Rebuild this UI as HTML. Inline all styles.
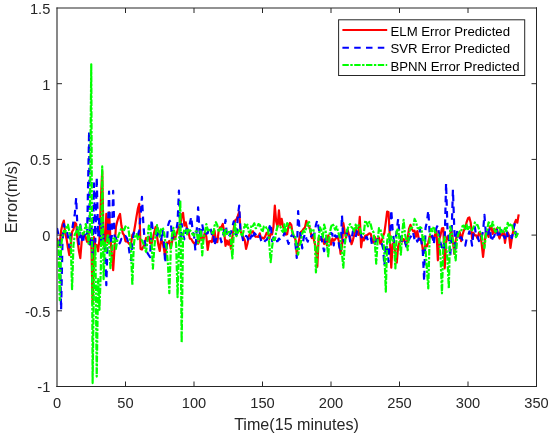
<!DOCTYPE html>
<html><head><meta charset="utf-8"><title>Error plot</title>
<style>html,body{margin:0;padding:0;background:#fff;width:550px;height:435px;overflow:hidden}svg{display:block;filter:blur(0.3px)}</style>
</head><body><svg width="550" height="435" viewBox="0 0 550 435"><rect x="57.0" y="8.0" width="479.5" height="378.5" fill="#fff"/><clipPath id="c"><rect x="57.0" y="8.0" width="479.5" height="378.5"/></clipPath><g clip-path="url(#c)" fill="none" stroke-width="2.2" stroke-linejoin="round"><polyline stroke="#ff0000" points="57.00,238.08 58.37,246.26 59.74,243.94 61.11,230.78 62.48,224.28 63.85,220.63 65.22,233.37 66.59,238.87 67.96,247.79 69.33,255.10 70.70,245.76 72.07,231.77 73.44,229.63 74.81,222.57 76.18,224.09 77.55,240.11 78.92,251.08 80.29,258.10 81.66,241.63 83.03,233.65 84.40,234.91 85.77,237.37 87.14,241.95 88.51,233.39 89.88,244.49 91.25,238.05 92.62,304.10 93.99,237.14 95.36,245.52 96.73,245.09 98.10,251.25 99.47,239.44 100.84,200.90 102.21,170.90 103.58,241.72 104.95,248.38 106.32,213.90 107.69,242.50 109.06,212.40 110.43,238.05 111.80,254.10 113.17,270.10 114.54,247.64 115.91,226.92 117.28,221.31 118.65,216.90 120.02,213.90 121.39,225.30 122.76,233.27 124.13,235.23 125.50,241.33 126.87,241.47 128.24,242.51 129.61,244.46 130.98,244.29 132.35,234.80 133.72,233.47 135.09,225.45 136.46,216.90 137.83,208.90 139.20,203.90 140.57,248.98 141.94,249.55 143.31,246.66 144.68,243.82 146.05,237.90 147.42,239.44 148.79,236.75 150.16,243.18 151.53,243.75 152.90,238.61 154.27,232.05 155.64,226.97 157.01,236.52 158.38,245.02 159.75,251.00 161.12,239.22 162.49,242.12 163.86,248.22 165.23,257.10 166.60,242.58 167.97,243.02 169.34,240.97 170.71,248.46 172.08,241.72 173.45,235.16 174.82,239.27 176.19,234.86 177.56,230.59 178.93,226.53 180.30,225.76 181.67,214.90 183.04,212.90 184.41,225.69 185.78,222.39 187.15,229.01 188.52,232.21 189.89,238.71 191.26,238.96 192.63,241.51 194.00,243.24 195.37,242.93 196.74,240.74 198.11,243.78 199.48,240.47 200.85,232.92 202.22,238.83 203.59,238.90 204.96,231.54 206.33,236.54 207.70,249.90 209.07,241.27 210.44,241.06 211.81,242.15 213.18,234.89 214.55,230.53 215.92,241.78 217.29,242.17 218.66,231.03 220.03,227.45 221.40,227.23 222.77,224.01 224.14,231.35 225.51,245.86 226.88,240.46 228.25,244.63 229.62,240.05 230.99,248.71 232.36,236.99 233.73,228.79 235.10,220.47 236.47,219.42 237.84,215.90 239.21,211.90 240.58,231.39 241.95,234.30 243.32,237.17 244.69,239.95 246.06,248.94 247.43,243.73 248.80,236.32 250.17,233.24 251.54,232.43 252.91,231.29 254.28,234.69 255.65,236.78 257.02,236.60 258.39,236.89 259.76,233.38 261.13,238.83 262.50,237.54 263.87,238.60 265.24,236.39 266.61,232.96 267.98,232.76 269.35,238.83 270.72,233.82 272.09,234.40 273.46,226.81 274.83,205.60 276.20,221.82 277.57,226.70 278.94,210.40 280.31,225.30 281.68,218.88 283.05,226.42 284.42,229.99 285.79,234.60 287.16,234.21 288.53,225.90 289.90,222.88 291.27,224.78 292.64,233.97 294.01,236.74 295.38,239.26 296.75,253.70 298.12,244.93 299.49,237.61 300.86,231.81 302.23,230.93 303.60,228.83 304.97,227.40 306.34,220.81 307.71,225.33 309.08,226.17 310.45,231.24 311.82,238.03 313.19,236.65 314.56,242.70 315.93,247.72 317.30,266.80 318.67,237.97 320.04,239.15 321.41,240.11 322.78,239.20 324.15,244.02 325.52,239.27 326.89,245.29 328.26,235.34 329.63,239.65 331.00,244.60 332.37,238.52 333.74,240.72 335.11,239.39 336.48,237.12 337.85,237.63 339.22,242.28 340.59,253.90 341.96,245.81 343.33,223.00 344.70,231.52 346.07,237.74 347.44,229.90 348.81,233.79 350.18,237.38 351.55,244.18 352.92,240.06 354.29,234.31 355.66,227.76 357.03,233.68 358.40,234.91 359.77,216.90 361.14,247.31 362.51,237.44 363.88,240.46 365.25,235.53 366.62,235.33 367.99,234.46 369.36,233.36 370.73,233.74 372.10,239.98 373.47,242.50 374.84,236.94 376.21,240.62 377.58,239.37 378.95,237.41 380.32,243.66 381.69,241.07 383.06,235.97 384.43,232.73 385.80,222.27 387.17,211.50 388.54,212.30 389.91,239.47 391.28,267.60 392.65,244.15 394.02,242.37 395.39,253.24 396.76,262.70 398.13,246.68 399.50,242.26 400.87,240.21 402.24,241.51 403.61,239.07 404.98,241.78 406.35,245.86 407.72,237.93 409.09,228.51 410.46,224.76 411.83,229.03 413.20,231.29 414.57,230.65 415.94,236.70 417.31,231.00 418.68,238.21 420.05,239.96 421.42,240.14 422.79,249.43 424.16,250.93 425.53,244.30 426.90,246.44 428.27,242.26 429.64,236.43 431.01,236.35 432.38,237.63 433.75,238.53 435.12,234.40 436.49,230.91 437.86,260.30 439.23,239.49 440.60,234.82 441.97,228.36 443.34,228.21 444.71,268.40 446.08,242.46 447.45,236.30 448.82,239.67 450.19,233.80 451.56,231.32 452.93,240.82 454.30,253.90 455.67,240.67 457.04,234.40 458.41,236.26 459.78,232.21 461.15,241.19 462.52,234.77 463.89,230.21 465.26,228.46 466.63,222.01 468.00,218.27 469.37,217.40 470.74,222.85 472.11,238.70 473.48,232.93 474.85,235.31 476.22,235.25 477.59,238.46 478.96,232.65 480.33,233.24 481.70,244.10 483.07,256.90 484.44,243.92 485.81,232.31 487.18,232.42 488.55,236.99 489.92,227.16 491.29,225.83 492.66,233.92 494.03,228.89 495.40,233.03 496.77,228.31 498.14,234.18 499.51,238.51 500.88,234.33 502.25,235.05 503.62,231.32 504.99,242.96 506.36,233.90 507.73,232.49 509.10,235.58 510.47,247.94 511.84,238.23 513.21,231.14 514.58,223.35 515.95,220.00 517.32,222.72 518.69,214.40"/><polyline stroke="#0000ff" stroke-dasharray="6.5 5.3" points="57.00,227.98 58.37,234.51 59.74,241.78 61.11,309.80 62.48,241.89 63.85,224.11 65.22,229.00 66.59,229.43 67.96,236.74 69.33,247.40 70.70,232.55 72.07,230.19 73.44,221.41 74.81,213.90 76.18,197.90 77.55,230.26 78.92,244.13 80.29,224.68 81.66,237.86 83.03,243.47 84.40,231.58 85.77,234.17 87.14,233.81 89.10,130.90 89.88,247.65 91.25,223.57 92.62,254.10 93.99,183.40 95.36,241.84 96.73,176.90 98.10,236.98 99.47,215.90 100.84,243.69 102.21,221.76 103.58,239.65 104.95,248.51 106.32,285.10 107.69,238.72 109.06,191.50 110.43,244.37 111.80,235.98 113.17,190.90 114.54,236.09 115.91,237.69 117.28,243.43 118.65,244.47 120.02,242.56 121.39,238.87 122.76,239.17 124.13,239.32 125.50,236.09 126.87,238.05 128.24,242.35 129.61,254.10 130.98,260.10 132.35,243.89 133.72,232.59 135.09,233.80 136.46,232.63 137.83,235.41 139.20,230.45 140.57,215.90 141.94,196.90 143.31,222.82 144.68,241.27 146.05,246.98 147.42,252.99 148.79,255.10 150.16,257.10 151.53,219.48 152.90,231.24 154.27,232.55 155.64,233.48 157.01,235.61 158.38,228.75 159.75,235.55 161.12,241.47 162.49,229.37 163.86,242.18 165.23,263.10 166.60,246.60 167.97,225.74 169.34,221.32 170.71,220.28 172.08,239.94 173.45,230.79 174.82,235.24 176.19,231.09 177.56,222.33 178.93,190.70 180.30,242.82 181.67,223.95 183.04,234.44 184.41,239.26 185.78,232.40 187.15,225.56 188.52,232.38 189.89,223.19 191.26,216.75 192.63,231.34 194.00,234.75 195.37,250.55 196.74,230.44 198.11,207.30 199.48,231.21 200.85,237.65 202.22,224.12 203.59,232.45 204.96,234.94 206.33,233.38 207.70,233.29 209.07,226.88 210.44,228.18 211.81,234.23 213.18,232.21 214.55,245.93 215.92,239.58 217.29,237.00 218.66,235.86 220.03,236.50 221.40,242.13 222.77,237.81 224.14,229.92 225.51,219.86 226.88,235.08 228.25,237.59 229.62,235.07 230.99,232.53 232.36,226.73 233.73,221.43 235.10,226.00 236.47,237.87 237.84,215.90 239.21,205.60 240.58,233.54 241.95,234.95 243.32,241.39 244.69,238.58 246.06,235.92 247.43,237.07 248.80,242.43 250.17,238.92 251.54,235.37 252.91,239.49 254.28,232.92 255.65,234.51 257.02,237.27 258.39,237.74 259.76,235.71 261.13,240.79 262.50,243.53 263.87,242.78 265.24,240.54 266.61,239.99 267.98,236.97 269.35,227.26 270.72,223.51 272.09,241.10 273.46,237.27 274.83,241.15 276.20,241.07 277.57,241.14 278.94,238.57 280.31,240.24 281.68,239.26 283.05,237.74 284.42,232.53 285.79,237.31 287.16,239.33 288.53,243.97 289.90,239.61 291.27,236.00 292.64,234.63 294.01,237.28 295.38,243.04 296.75,257.90 298.12,211.20 299.49,229.28 300.86,235.97 302.23,248.31 303.60,238.32 304.97,233.62 306.34,238.60 307.71,241.65 309.08,236.89 310.45,237.88 311.82,235.35 313.19,234.80 314.56,233.04 315.93,224.81 317.30,220.19 318.67,228.14 320.04,234.58 321.41,237.47 322.78,245.65 324.15,251.11 325.52,238.40 326.89,238.76 328.26,236.60 329.63,236.51 331.00,232.98 332.37,233.86 333.74,245.36 335.11,235.26 336.48,237.03 337.85,236.12 339.22,246.23 340.59,251.95 341.96,215.20 343.33,239.30 344.70,243.24 346.07,238.27 347.44,229.93 348.81,233.25 350.18,241.51 351.55,239.16 352.92,231.30 354.29,232.22 355.66,236.95 357.03,231.15 358.40,229.11 359.77,230.43 361.14,235.49 362.51,239.97 363.88,237.87 365.25,238.31 366.62,236.63 367.99,240.84 369.36,237.73 370.73,237.63 372.10,245.63 373.47,243.91 374.84,244.07 376.21,240.44 377.58,239.38 378.95,239.37 380.32,241.39 381.69,243.18 383.06,248.39 384.43,266.00 385.80,243.77 387.17,249.46 388.54,261.90 389.91,235.64 391.28,209.90 392.65,230.19 394.02,241.92 395.39,241.35 396.76,230.17 398.13,218.96 399.50,234.53 400.87,237.78 402.24,243.64 403.61,244.06 404.98,241.76 406.35,246.58 407.72,240.63 409.09,239.67 410.46,236.44 411.83,237.50 413.20,232.79 414.57,239.76 415.94,237.47 417.31,241.60 418.68,239.01 420.05,229.27 421.42,241.89 422.79,251.68 424.16,281.10 425.53,228.02 426.90,222.14 428.27,210.40 429.64,232.82 431.01,237.04 432.38,235.71 433.75,244.55 435.12,232.80 436.49,227.86 437.86,225.20 439.23,235.27 440.60,243.35 441.97,247.52 443.34,251.24 444.71,240.35 446.08,183.10 447.45,228.71 448.82,236.63 450.19,256.63 451.56,234.14 452.93,189.60 454.30,229.48 455.67,251.52 457.04,231.86 458.41,232.92 459.78,238.04 461.15,237.14 462.52,240.21 463.89,242.41 465.26,245.67 466.63,238.93 468.00,236.20 469.37,231.49 470.74,236.92 472.11,245.64 473.48,232.50 474.85,227.12 476.22,236.70 477.59,236.59 478.96,241.12 480.33,235.06 481.70,236.79 483.07,231.48 484.44,214.90 485.81,232.81 487.18,236.42 488.55,231.44 489.92,227.87 491.29,241.68 492.66,237.93 494.03,236.74 495.40,232.31 496.77,229.11 498.14,238.11 499.51,234.57 500.88,230.36 502.25,229.97 503.62,235.99 504.99,238.33 506.36,230.66 507.73,236.23 509.10,239.00 510.47,236.14 511.84,238.07 513.21,231.03 514.58,224.02 515.95,234.83 517.32,242.05"/><polyline stroke="#00ff00" stroke-dasharray="6.4 1.5 2.4 1.5" points="57.00,245.38 58.37,241.71 59.74,300.10 61.11,246.17 62.48,235.76 63.85,230.93 65.22,232.39 66.59,227.08 67.96,224.76 69.33,231.39 70.70,240.54 72.07,289.10 73.44,245.41 74.81,234.33 76.18,232.19 77.55,227.21 78.92,235.82 80.29,225.66 81.66,231.03 83.03,234.46 84.40,231.61 85.77,224.00 87.14,230.67 88.51,243.69 89.88,225.76 91.25,64.30 92.62,383.10 93.99,269.10 95.36,245.55 96.73,376.60 98.10,279.10 99.47,309.80 100.84,269.10 102.21,166.40 103.58,279.10 104.95,242.52 106.32,251.24 107.69,234.37 109.06,242.01 110.43,268.10 111.80,254.10 113.17,238.73 114.54,238.24 115.91,248.88 117.28,240.57 118.65,234.91 120.02,231.65 121.39,228.37 122.76,229.29 124.13,229.99 125.50,226.51 126.87,228.12 128.24,227.70 129.61,237.47 130.98,250.70 132.35,285.10 133.72,245.84 135.09,234.94 136.46,234.13 137.83,239.20 139.20,236.58 140.57,238.47 141.94,240.51 143.31,243.45 144.68,248.85 146.05,251.89 147.42,241.38 148.79,225.56 150.16,226.71 151.53,240.42 152.90,268.60 154.27,248.12 155.64,234.36 157.01,225.06 158.38,230.23 159.75,236.68 161.12,229.17 162.49,227.69 163.86,230.35 165.23,241.00 166.60,248.14 167.97,264.10 169.34,293.10 170.71,251.70 172.08,234.02 173.45,227.78 174.82,233.55 176.19,244.55 177.56,297.10 178.93,248.28 180.30,200.40 181.67,342.60 183.04,234.80 184.41,229.47 185.78,229.89 187.15,234.33 188.52,228.79 189.89,230.17 191.26,231.62 192.63,234.48 194.00,235.73 195.37,231.65 196.74,231.41 198.11,242.85 199.48,233.86 200.85,229.79 202.22,255.46 203.59,237.45 204.96,232.57 206.33,224.08 207.70,230.07 209.07,229.85 210.44,230.91 211.81,231.82 213.18,234.73 214.55,225.76 215.92,222.26 217.29,225.32 218.66,232.20 220.03,229.30 221.40,228.51 222.77,230.99 224.14,236.00 225.51,228.74 226.88,234.04 228.25,232.12 229.62,231.97 230.99,241.34 232.36,258.50 233.73,234.15 235.10,223.50 236.47,236.22 237.84,232.62 239.21,229.88 240.58,231.51 241.95,236.60 243.32,232.28 244.69,224.35 246.06,226.75 247.43,224.67 248.80,231.91 250.17,232.80 251.54,224.90 252.91,225.92 254.28,223.28 255.65,228.25 257.02,227.56 258.39,224.15 259.76,224.66 261.13,228.69 262.50,232.10 263.87,226.52 265.24,225.90 266.61,228.04 267.98,227.87 269.35,244.73 270.72,262.10 272.09,246.96 273.46,237.23 274.83,240.03 276.20,231.91 277.57,226.06 278.94,226.42 280.31,226.35 281.68,230.22 283.05,231.94 284.42,224.39 285.79,232.28 287.16,223.05 288.53,225.42 289.90,227.11 291.27,229.04 292.64,232.02 294.01,236.41 295.38,237.26 296.75,247.17 298.12,254.70 299.49,245.22 300.86,242.27 302.23,233.60 303.60,230.74 304.97,231.99 306.34,227.58 307.71,223.50 309.08,222.12 310.45,232.06 311.82,229.36 313.19,229.23 314.56,234.20 315.93,272.40 317.30,253.62 318.67,237.80 320.04,227.32 321.41,230.96 322.78,237.32 324.15,224.58 325.52,229.80 326.89,243.59 328.26,256.30 329.63,233.92 331.00,227.21 332.37,223.78 333.74,225.92 335.11,229.73 336.48,226.62 337.85,230.65 339.22,235.41 340.59,240.17 341.96,253.43 343.33,267.60 344.70,245.29 346.07,233.57 347.44,229.70 348.81,225.44 350.18,224.08 351.55,227.28 352.92,228.49 354.29,231.38 355.66,224.66 357.03,228.28 358.40,225.07 359.77,227.91 361.14,233.74 362.51,234.70 363.88,232.76 365.25,220.60 366.62,222.71 367.99,226.31 369.36,221.79 370.73,224.56 372.10,230.10 373.47,232.10 374.84,242.69 376.21,263.60 377.58,241.55 378.95,228.16 380.32,228.76 381.69,235.34 383.06,236.40 384.43,254.10 385.80,291.70 387.17,240.94 388.54,233.03 389.91,242.86 391.28,236.47 392.65,238.85 394.02,244.90 395.39,268.40 396.76,231.25 398.13,228.12 399.50,240.19 400.87,254.70 402.24,232.74 403.61,219.90 404.98,234.25 406.35,240.16 407.72,250.24 409.09,233.56 410.46,227.95 411.83,227.85 413.20,226.69 414.57,218.94 415.94,221.72 417.31,227.63 418.68,228.64 420.05,227.13 421.42,228.16 422.79,240.09 424.16,236.83 425.53,249.70 426.90,269.10 428.27,288.50 429.64,237.02 431.01,228.87 432.38,231.21 433.75,226.64 435.12,232.49 436.49,232.77 437.86,234.02 439.23,239.47 440.60,259.10 441.97,293.30 443.34,244.49 444.71,236.96 446.08,245.32 447.45,259.10 448.82,288.50 450.19,226.70 451.56,231.94 452.93,240.90 454.30,251.14 455.67,260.30 457.04,238.20 458.41,233.58 459.78,231.41 461.15,231.60 462.52,226.00 463.89,225.52 465.26,230.04 466.63,224.81 468.00,229.05 469.37,226.85 470.74,229.88 472.11,230.12 473.48,227.27 474.85,222.47 476.22,224.70 477.59,225.03 478.96,228.92 480.33,232.83 481.70,235.66 483.07,243.74 484.44,248.10 485.81,235.33 487.18,229.73 488.55,222.43 489.92,223.69 491.29,227.90 492.66,221.75 494.03,228.77 495.40,231.83 496.77,230.75 498.14,226.74 499.51,226.49 500.88,232.28 502.25,230.62 503.62,232.03 504.99,228.03 506.36,231.17 507.73,222.76 509.10,226.82 510.47,224.74 511.84,223.72 513.21,230.32 514.58,231.79 515.95,237.21 517.32,234.46 518.69,232.35"/></g><g stroke="#262626" fill="none"><line x1="57" y1="7.5" x2="57" y2="387" stroke-width="1.1"/><line x1="56.5" y1="8" x2="537" y2="8" stroke-width="1.1"/><line x1="536.5" y1="7.3" x2="536.5" y2="387" stroke-width="1"/><line x1="56.3" y1="386.5" x2="537" y2="386.5" stroke-width="1"/><line x1="125.50" y1="386.5" x2="125.50" y2="381.5"/><line x1="125.50" y1="8.0" x2="125.50" y2="13.0"/><line x1="194.00" y1="386.5" x2="194.00" y2="381.5"/><line x1="194.00" y1="8.0" x2="194.00" y2="13.0"/><line x1="262.50" y1="386.5" x2="262.50" y2="381.5"/><line x1="262.50" y1="8.0" x2="262.50" y2="13.0"/><line x1="331.00" y1="386.5" x2="331.00" y2="381.5"/><line x1="331.00" y1="8.0" x2="331.00" y2="13.0"/><line x1="399.50" y1="386.5" x2="399.50" y2="381.5"/><line x1="399.50" y1="8.0" x2="399.50" y2="13.0"/><line x1="468.00" y1="386.5" x2="468.00" y2="381.5"/><line x1="468.00" y1="8.0" x2="468.00" y2="13.0"/><line x1="57.0" y1="83.70" x2="62.0" y2="83.70"/><line x1="536.5" y1="83.70" x2="531.5" y2="83.70"/><line x1="57.0" y1="159.40" x2="62.0" y2="159.40"/><line x1="536.5" y1="159.40" x2="531.5" y2="159.40"/><line x1="57.0" y1="235.10" x2="62.0" y2="235.10"/><line x1="536.5" y1="235.10" x2="531.5" y2="235.10"/><line x1="57.0" y1="310.80" x2="62.0" y2="310.80"/><line x1="536.5" y1="310.80" x2="531.5" y2="310.80"/></g><g font-family="&quot;Liberation Sans&quot;, sans-serif" font-size="14.67" fill="#262626"><text x="57.00" y="408" text-anchor="middle">0</text><text x="125.50" y="408" text-anchor="middle">50</text><text x="194.00" y="408" text-anchor="middle">100</text><text x="262.50" y="408" text-anchor="middle">150</text><text x="331.00" y="408" text-anchor="middle">200</text><text x="399.50" y="408" text-anchor="middle">250</text><text x="468.00" y="408" text-anchor="middle">300</text><text x="536.50" y="408" text-anchor="middle">350</text><text x="50.3" y="13.80" text-anchor="end">1.5</text><text x="50.3" y="89.50" text-anchor="end">1</text><text x="50.3" y="165.20" text-anchor="end">0.5</text><text x="50.3" y="240.90" text-anchor="end">0</text><text x="50.3" y="316.60" text-anchor="end">-0.5</text><text x="50.3" y="392.30" text-anchor="end">-1</text></g><text x="296.5" y="429.5" text-anchor="middle" font-family="&quot;Liberation Sans&quot;, sans-serif" font-size="16.13" fill="#262626">Time(15 minutes)</text><text transform="translate(16.8,197) rotate(-90)" x="0" y="0" text-anchor="middle" font-family="&quot;Liberation Sans&quot;, sans-serif" font-size="16.13" fill="#262626">Error(m/s)</text><rect x="338.6" y="19.8" width="186.1" height="55.7" fill="#fff" stroke="#262626" stroke-width="1"/><line x1="342.4" y1="30" x2="387.2" y2="30" stroke="#ff0000" stroke-width="2"/><line x1="342.4" y1="47.7" x2="387.2" y2="47.7" stroke="#0000ff" stroke-width="2" stroke-dasharray="6.5 5.3"/><line x1="342.4" y1="65" x2="387.2" y2="65" stroke="#00ff00" stroke-width="2" stroke-dasharray="6.4 1.5 2.4 1.5"/><g font-family="&quot;Liberation Sans&quot;, sans-serif" font-size="13.2" fill="#000"><text x="390.5" y="35.5">ELM Error Predicted</text><text x="390.5" y="53">SVR Error Predicted</text><text x="390.5" y="70.5">BPNN Error Predicted</text></g></svg></body></html>
